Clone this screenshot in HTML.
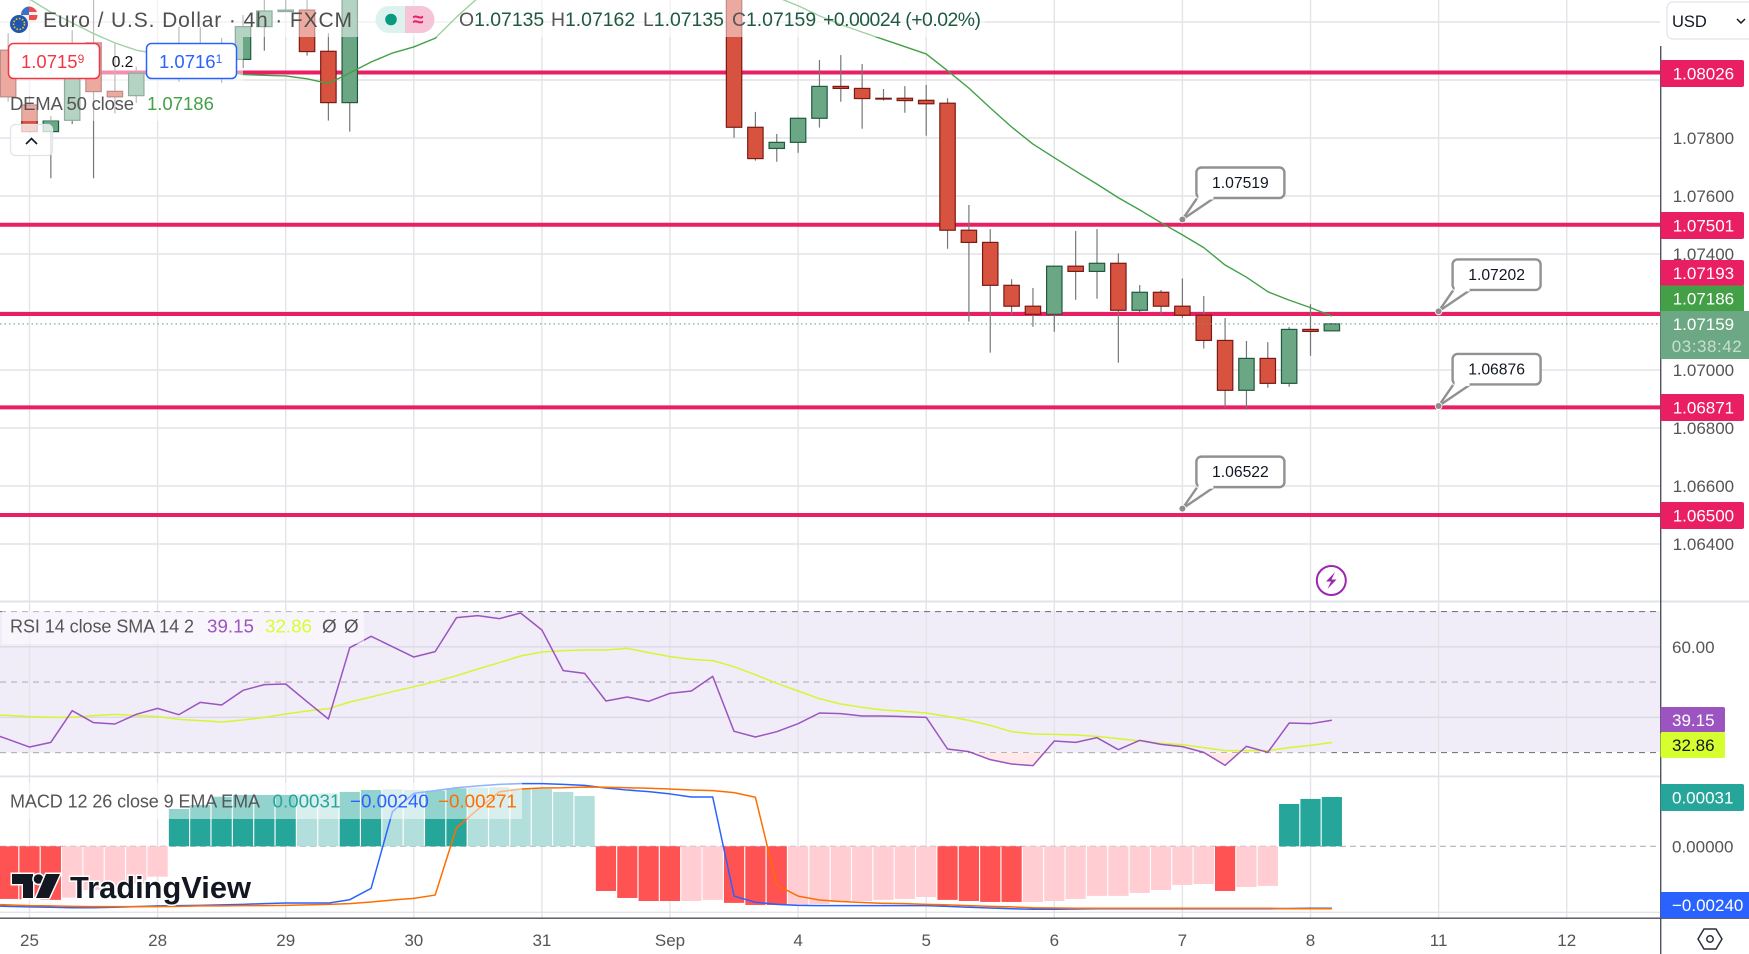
<!DOCTYPE html>
<html lang="en">
<head>
<meta charset="utf-8">
<title>EUR/USD 4h chart</title>
<style>
html,body{margin:0;padding:0;background:#fff;width:1749px;height:954px;overflow:hidden}
svg{display:block;font-family:"Liberation Sans",sans-serif}
text{white-space:pre}
</style>
</head>
<body>
<svg id="chart" xmlns="http://www.w3.org/2000/svg" width="1749" height="954" viewBox="0 0 1749 954">
<defs>
<clipPath id="clip-price"><rect x="0" y="0" width="1660" height="600"/></clipPath>
<clipPath id="clip-rsi"><rect x="0" y="602" width="1660" height="174"/></clipPath>
<clipPath id="clip-below30"><rect x="0" y="752" width="1660" height="24"/></clipPath>
<clipPath id="clip-macd"><rect x="0" y="777" width="1660" height="141"/></clipPath>
</defs>
<rect x="0" y="0" width="1749" height="954" fill="#ffffff"/>
<rect x="0" y="611" width="1660" height="141" fill="#f0edf8"/>
<g id="grid"></g>
<g id="price-pane" clip-path="url(#clip-price)"></g>
<g id="rsi-pane" clip-path="url(#clip-rsi)"></g>
<g id="macd-pane" clip-path="url(#clip-macd)"></g>

<!-- legend translucent backdrops -->
<rect x="0" y="0" width="985" height="37" fill="#fff" fill-opacity=".5"/>
<rect x="0" y="37" width="243" height="49" fill="#fff" fill-opacity=".5"/>
<rect x="0" y="86" width="221" height="35" fill="#fff" fill-opacity=".5"/>
<rect x="2" y="611" width="362" height="33" fill="#fff" fill-opacity=".5"/>
<rect x="0" y="783" width="522" height="36" fill="#fff" fill-opacity=".5"/>

<!-- symbol legend -->
<g>
<circle cx="29" cy="15" r="8.5" fill="#f0f0f0"/>
<path d="M29 6.5a8.5 8.5 0 0 1 8 5.5h-8zM29 15h8.5a8.5 8.5 0 0 1-1.6 5h-6.9z" fill="#f04b4b"/>
<path d="M29 6.5a8.5 8.5 0 0 0-8 8.5h8z" fill="#3d6fc4"/>
<circle cx="19" cy="24" r="9" fill="#1f56b0"/>
<circle cx="19" cy="24" r="5.5" fill="none" stroke="#f5c518" stroke-width="1.6" stroke-dasharray="1.6 1.6"/>
</g>
<text x="43" y="27" font-size="21" fill="#4f4f4f" textLength="309" lengthAdjust="spacing">Euro / U.S. Dollar · 4h · FXCM</text>
<g>
<path d="M389 6h16v27h-16a13.500 13.500 0 0 1 0-27z" fill="#ddf2ef"/>
<path d="M405 6h16a13.500 13.500 0 0 1 0 27h-16z" fill="#f6c4d7"/>
<circle cx="391" cy="19.500" r="5.800" fill="#089981"/>
<text x="418" y="26" font-size="20" font-weight="bold" fill="#e91e63" text-anchor="middle">≈</text>
</g>
<g font-size="19.400" fill="#1e5a41">
<text x="459" y="26"><tspan fill="#555">O</tspan>1.07135</text>
<text x="551" y="26"><tspan fill="#555">H</tspan>1.07162</text>
<text x="643" y="26"><tspan fill="#555">L</tspan>1.07135</text>
<text x="732" y="26"><tspan fill="#555">C</tspan>1.07159</text>
<text x="823" y="26" textLength="158" lengthAdjust="spacing">+0.00024 (+0.02%)</text>
</g>

<!-- sell / buy boxes -->
<g>
<rect x="8.500" y="43.500" width="91" height="35" rx="5" fill="#fff" stroke="#f23645" stroke-width="1.500"/>
<text x="21" y="68" font-size="18.500" fill="#f23645">1.0715<tspan font-size="12" dy="-5">9</tspan></text>
</g>
<text x="122.500" y="67" font-size="15.500" fill="#111" text-anchor="middle">0.2</text>
<g>
<rect x="146.500" y="43.500" width="90" height="35" rx="5" fill="#fff" stroke="#2962ff" stroke-width="1.500"/>
<text x="159" y="68" font-size="18.500" fill="#2962ff">1.0716<tspan font-size="12" dy="-5">1</tspan></text>
</g>
<text x="10" y="110" font-size="18.500" fill="#555" textLength="124" lengthAdjust="spacing">DEMA 50 close</text>
<text x="147" y="110" font-size="18.500" fill="#43a047">1.07186</text>
<g>
<rect x="10.500" y="124.500" width="42" height="31" rx="5" fill="#fff" fill-opacity=".75" stroke="#e0e3eb" stroke-width="1.200"/>
<path d="M26 144l5.500-5.500 5.500 5.500" fill="none" stroke="#131722" stroke-width="1.600"/>
</g>

<!-- indicator legends -->
<g font-size="18">
<text x="10" y="632.500" fill="#555" textLength="184" lengthAdjust="spacing">RSI 14 close SMA 14 2</text>
<text x="207" y="632.500" fill="#9c54c0" font-size="18.800">39.15</text>
<text x="265" y="632.500" fill="#d5ff2e" font-size="18.800">32.86</text>
<text x="322" y="632.500" fill="#555" font-size="18.800">Ø</text>
<text x="344" y="632.500" fill="#555" font-size="18.800">Ø</text>
</g>
<g font-size="18">
<text x="10" y="807.500" fill="#555" textLength="250" lengthAdjust="spacing">MACD 12 26 close 9 EMA EMA</text>
<text x="272.500" y="807.500" fill="#26a69a" font-size="18.800">0.00031</text>
<text x="350" y="807.500" fill="#2962ff" font-size="18.800">−0.00240</text>
<text x="438" y="807.500" fill="#ff6d00" font-size="18.800">−0.00271</text>
</g>

<!-- watermark logo -->
<g>
<g fill="#131722" stroke="#fff" stroke-width="3" paint-order="stroke">
<path d="M12 874h21v24h-10v-14H12z"/>
<circle cx="38.500" cy="879" r="4.800"/>
<path d="M46 874h14l-11 24H36z"/>
</g>
<text x="70" y="898" font-size="31" font-weight="bold" fill="#131722" stroke="#fff" stroke-width="3" paint-order="stroke" textLength="181" lengthAdjust="spacingAndGlyphs">TradingView</text>
</g>

<!-- bolt icon -->
<g>
<circle cx="1331.300" cy="580.500" r="14.500" fill="#fff" stroke="#9c27b0" stroke-width="2"/>
<path d="M1335 572l-9 9.500h5l-3.500 7.500 9-9.500h-5z" fill="#9c27b0"/>
</g>

<!-- axes -->
<rect x="0" y="600.500" width="1749" height="2" fill="#e0e3eb"/>
<rect x="0" y="775.500" width="1660" height="1.800" fill="#e0e3eb"/>
<rect x="0" y="917.500" width="1749" height="1.400" fill="#50535e"/>
<rect x="1660" y="46" width="1.400" height="908" fill="#50535e"/>
<g id="axis-labels" font-size="17" fill="#555"></g>

<!-- price axis tags -->
<g font-size="17" fill="#fff">
<g><rect x="1660.500" y="60" width="83.500" height="27" rx="2" fill="#ea1f63"/><text x="1672.700" y="79.500">1.08026</text></g>
<g><rect x="1660.500" y="212" width="83.500" height="27" rx="2" fill="#ea1f63"/><text x="1672.700" y="231.500">1.07501</text></g>
<g><rect x="1660.500" y="260" width="83.500" height="26" rx="2" fill="#ea1f63"/><text x="1672.700" y="279">1.07193</text></g>
<g><rect x="1660.500" y="285.500" width="83.500" height="26" fill="#43a047"/><text x="1672.700" y="304.500">1.07186</text></g>
<g><rect x="1660.500" y="311" width="88.500" height="48" fill="#6ca884"/><text x="1672.700" y="330">1.07159</text><text x="1671.700" y="352" fill="#fff" fill-opacity=".62" textLength="70" lengthAdjust="spacing">03:38:42</text></g>
<g><rect x="1660.500" y="394" width="83.500" height="27" rx="2" fill="#ea1f63"/><text x="1672.700" y="413.500">1.06871</text></g>
<g><rect x="1660.500" y="502" width="83.500" height="27" rx="2" fill="#ea1f63"/><text x="1672.700" y="521.500">1.06500</text></g>
<g><rect x="1660.500" y="707" width="64.500" height="25.500" rx="2" fill="#9c54c0"/><text x="1672" y="726">39.15</text></g>
<g><rect x="1660.500" y="732" width="64.500" height="26" rx="2" fill="#d5ff2e"/><text x="1672" y="751" fill="#131722">32.86</text></g>
<g><rect x="1660.500" y="784" width="83.500" height="27" rx="2" fill="#26a69a"/><text x="1672" y="803.500">0.00031</text></g>
<g><rect x="1660.500" y="892" width="88.500" height="26" fill="#2962ff"/><text x="1672" y="911">−0.00240</text></g>
</g>

<!-- currency button -->
<g>
<rect x="1667" y="2" width="90" height="37" rx="6" fill="#fff" stroke="#e0e3eb" stroke-width="1.200"/>
<text x="1672" y="27" font-size="16.500" fill="#131722">USD</text>
<path d="M1737 19l4 4 4-4" fill="none" stroke="#131722" stroke-width="1.500"/>
</g>
<!-- settings -->
<g fill="none" stroke="#2a2e39" stroke-width="1.500">
<path d="M1704 929h12l6 10-6 10h-12l-6-10z"/>
<circle cx="1710" cy="939" r="3.200"/>
</g>

<script>
/* ---------- chart data ---------- */
var firstBar = -2;
var dateTickLabels = ["25","28","29","30","31","Sep","4","5","6","7","8","11","12"];
var dateTickBars = [0,6,12,18,24,30,36,42,48,54,60,66,72];
var priceTicks = [1.082,1.08,1.078,1.076,1.074,1.072,1.07,1.068,1.066,1.064];
var priceTickLabels = ["","","1.07800","1.07600","1.07400","","1.07000","1.06800","1.06600","1.06400"];
var levels = [1.08026,1.07501,1.07193,1.06871,1.065];
var lastPrice = 1.07159;
var calloutPrices = [1.07519,1.07202,1.06876,1.06522];
var calloutBars = [54,66,66,54];
var calloutTexts = ["1.07519","1.07202","1.06876","1.06522"];

var opens = [null,
1.08103,1.07914,1.07822,1.07861,1.08128,1.07961,1.07946,1.08034,1.08121,1.08034,1.0811,1.08071,1.08184,1.08236,1.08241,1.08099,1.07922,
null,null,null,null,null,null,null,null,null,null,null,null,null,null,null,null,null,
1.08345,1.07837,1.07764,1.07785,1.07868,1.07978,1.07971,1.07937,1.07937,1.0793,1.0792,1.07482,1.0744,1.07292,1.0722,1.07192,1.07358,1.0734,
1.07368,1.07206,1.07268,1.0722,1.07189,1.07102,1.0693,1.0704,1.06954,1.0714,1.07135];
var highs = [null,
1.08161,1.07945,1.07876,1.08172,1.08293,1.08128,1.08046,1.08121,1.08183,1.08183,1.08145,1.08224,1.08286,1.0829,1.08286,1.08161,1.0834,
null,null,null,null,null,null,null,null,null,null,null,null,null,null,null,null,null,
1.0838,1.0789,1.07814,1.07871,1.08069,1.08086,1.08055,1.07969,1.07979,1.07983,1.07937,1.07569,1.07486,1.07313,1.07283,1.07358,1.07479,1.07486,
1.07402,1.07293,1.07276,1.07316,1.07255,1.07179,1.071,1.07096,1.07148,1.07227,1.07162];
var lows = [null,
1.07925,1.07817,1.07661,1.07848,1.07661,1.07885,1.07921,1.08014,1.07994,1.08007,1.0799,1.08041,1.08101,1.08236,1.08084,1.0786,1.07822,
null,null,null,null,null,null,null,null,null,null,null,null,null,null,null,null,null,
1.07801,1.07722,1.07718,1.07749,1.07836,1.07925,1.07832,1.07929,1.07887,1.07808,1.07418,1.07167,1.0706,1.0719,1.07149,1.07132,1.07242,1.07246,
1.07025,1.072,1.0719,1.0718,1.07074,1.06868,1.06863,1.06939,1.06942,1.07049,1.07135];
var closes = [null,
1.07942,1.07822,1.0786,1.08069,1.0796,1.07942,1.08023,1.08103,1.08017,1.08103,1.08028,1.08184,1.08238,1.08241,1.08098,1.07922,1.0831,
null,null,null,null,null,null,null,null,null,null,null,null,null,null,null,null,null,
1.07837,1.07729,1.07785,1.07868,1.07978,1.07971,1.07936,1.07935,1.07929,1.07918,1.07482,1.0744,1.07292,1.0722,1.07192,1.07358,1.0734,1.07368,
1.07206,1.07268,1.0722,1.07189,1.07102,1.0693,1.0704,1.06954,1.0714,1.07133,1.07159];
var dema = [null,null,
1.08279,1.08234,1.08197,1.0816,1.08128,1.08103,1.0809,1.08069,1.08048,1.08031,1.08019,1.08016,1.08014,1.08004,1.07988,1.08024,
1.08062,1.08093,1.08114,1.08144,1.08217,1.08283,
null,null,null,null,null,null,null,null,null,null,null,null,null,
1.08286,1.08256,1.08221,1.08191,1.08165,1.0814,1.08115,1.0809,1.08032,1.07972,1.07904,1.07838,1.07779,1.07732,1.07686,1.07641,1.07594,
1.07552,1.07508,1.07466,1.07422,1.07362,1.0732,1.0727,1.07241,1.07215,1.07186];
var rsi = [35.93,33.75,
31.57,32.9,41.88,38.48,38.1,40.84,42.54,40.75,44.25,43.49,47.65,49.26,49.45,44.43,39.52,59.75,
62.97,60.04,57.1,58.62,68.26,68.83,67.98,69.59,64.77,53.23,52.47,44.62,45.76,44.53,46.8,47.46,51.62,
36.02,34.41,35.92,38.19,41.22,41.03,40.37,40.37,40.18,39.99,31.01,30.25,27.98,26.75,26.28,33.28,32.9,34.22,
30.82,33.47,32.33,31.67,30.06,26.37,31.76,30.06,38.38,38.19,39.15];
var rsiSma = [40.75,40.56,
40.18,39.99,39.99,40.46,40.84,40.46,40.18,39.42,39.04,38.67,39.23,39.99,40.94,41.79,42.45,44.34,
45.76,47.27,48.69,50.11,51.81,53.7,55.5,57.39,58.52,58.9,59.09,59.09,59.56,58.34,57.2,56.44,56.07,
54.36,52.09,49.64,47.46,45.29,43.77,42.83,42.07,41.69,41.22,40.27,39.14,37.72,35.92,35.26,35.17,34.98,34.6,
33.94,33.28,32.61,32.24,31.39,30.53,30.53,30.53,31.39,32.05,32.86];
var macdHist = [-0.00033,-0.000331,
-0.000333,-0.000337,-0.000323,-0.000275,-0.000254,-0.000233,-0.000191,0.000235,0.00026,0.000312,0.000323,0.000323,0.000323,0.000327,0.000333,0.000342,
0.000354,0.000358,0.000354,0.00035,0.000365,0.000369,0.000371,0.000363,0.000361,0.000342,0.000316,-0.000281,-0.000325,-0.000344,-0.000344,-0.000344,-0.000337,
-0.000356,-0.000369,-0.000369,-0.000369,-0.000363,-0.000352,-0.000344,-0.000337,-0.000331,-0.000319,-0.000337,-0.000344,-0.00035,-0.00035,-0.00035,-0.000344,-0.000331,-0.000312,
-0.000312,-0.000293,-0.000275,-0.000243,-0.000237,-0.000281,-0.000256,-0.000249,0.000266,0.000298,0.00031];
var macdHistStrong = [1,1,
1,1,0,0,0,0,0,1,1,1,1,1,1,0,0,1,
1,0,0,1,1,0,0,0,0,0,0,1,1,1,1,0,0,
1,1,1,0,0,0,0,0,0,0,1,1,1,1,0,0,0,0,
0,0,0,0,0,1,0,0,1,1,1];
var macdLine = [-0.0023,-0.00233,
-0.00235,-0.00236,-0.00238,-0.00238,-0.00236,-0.00234,-0.00231,-0.0023,-0.00229,-0.00227,-0.00225,-0.00222,-0.0022,-0.0022,-0.0022,-0.00207,
-0.00163,0.00134,0.00205,0.00216,0.00227,0.00234,0.0024,0.00243,0.00243,0.0024,0.00236,0.00226,0.00218,0.00212,0.00203,0.00191,0.00191,
-0.00193,-0.00217,-0.00225,-0.00229,-0.0023,-0.0023,-0.0023,-0.0023,-0.0023,-0.0023,-0.00233,-0.00236,-0.00239,-0.00242,-0.00244,-0.00244,-0.00243,-0.00242,
-0.00242,-0.00242,-0.00242,-0.00242,-0.00242,-0.00242,-0.00242,-0.00242,-0.00241,-0.0024,-0.0024];
var macdSignal = [-0.00225,-0.00227,
-0.0023,-0.00231,-0.00233,-0.00234,-0.00234,-0.00234,-0.00234,-0.00233,-0.00231,-0.00231,-0.0023,-0.0023,-0.00229,-0.00227,-0.00225,-0.00222,
-0.00216,-0.00208,-0.00202,-0.00189,0.00072,0.00143,0.00211,0.00222,0.00226,0.00227,0.0023,0.00229,0.00227,0.00225,0.00222,0.00218,0.00216,
0.00208,0.0019,-0.0015,-0.00193,-0.00208,-0.00214,-0.00218,-0.00221,-0.00222,-0.00225,-0.00227,-0.0023,-0.00233,-0.00235,-0.00238,-0.00239,-0.0024,-0.0024,
-0.0024,-0.0024,-0.0024,-0.0024,-0.0024,-0.0024,-0.0024,-0.0024,-0.00242,-0.00242,-0.00242];

/* ---------- axis functions ---------- */
function xBar(i){ return 29.5 + 21.35*i; }
function yPrice(p){ return 138 + (1.078-p)*29000; }
function yRsi(v){ return 717.3 + (40-v)*3.525; }
function yHist(v){ return 846.3 - v*159000; }
function yMacd(v){ return 846.3 - v*25800; }

var NS = "http://www.w3.org/2000/svg";
function mk(parent, tag, props){
  var el = document.createElementNS(NS, tag);
  for (var k in props) el.setAttribute(k, props[k]);
  parent.appendChild(el);
  return el;
}
function linePath(values, yFn){
  var d = "", pen = false;
  for (var n = 0; n < values.length; n++){
    if (values[n] === null){ pen = false; continue; }
    d += (pen ? "L" : "M") + xBar(firstBar+n).toFixed(2) + " " + yFn(values[n]).toFixed(2);
    pen = true;
  }
  return d;
}

var grid = document.getElementById("grid");
var pricePane = document.getElementById("price-pane");
var rsiPane = document.getElementById("rsi-pane");
var macdPane = document.getElementById("macd-pane");
var axisLabels = document.getElementById("axis-labels");
var el, i;

/* grid + ticks */
dateTickBars.forEach(function(b, k){
  var el = mk(grid, "line", {x1:xBar(b), x2:xBar(b), y1:0, y2:918, stroke:"#e4e4e8", "stroke-width":1.4});
  
  
  var t = mk(axisLabels, "text", {x:xBar(b), y:946, "text-anchor":"middle"});
  t.textContent = dateTickLabels[k];
  
  
});
priceTicks.forEach(function(p, k){
  var el = mk(grid, "line", {x1:0, x2:1660, y1:yPrice(p), y2:yPrice(p), stroke:"#e4e4e8", "stroke-width":1.4});
  
  
  if (priceTickLabels[k]){
    var t = mk(axisLabels, "text", {x:1672.7, y:yPrice(p)+6});
    t.textContent = priceTickLabels[k];
    
    
  }
});
var rsiGridValues = [60,40];
rsiGridValues.forEach(function(v){
  var el = mk(grid, "line", {x1:0, x2:1660, y1:yRsi(v), y2:yRsi(v), stroke:"#dcd9e6", "stroke-width":1.4});
  
  
});
var rsiTickValues = [60];
rsiTickValues.forEach(function(v){
  var t = mk(axisLabels, "text", {x:1672, y:yRsi(v)+6});
  t.textContent = v.toFixed(2);
  
  
});
el = mk(grid, "line", {x1:0, x2:1660, y1:912.3, y2:912.3, stroke:"#e4e4e8", "stroke-width":1.4});


var macdTickValues = [0];
macdTickValues.forEach(function(v){
  var t = mk(axisLabels, "text", {x:1672, y:yHist(v)+6});
  t.textContent = v.toFixed(5);
  
  
});
var rsiBounds = [70,50,30];
rsiBounds.forEach(function(v){
  var el = mk(grid, "line", {x1:0, x2:1660, y1:yRsi(v), y2:yRsi(v), stroke: v===50 ? "#b2b0c0" : "#787b86", "stroke-width":1.2, "stroke-dasharray":"6 5"});
  
  
});

/* horizontal levels */
levels.forEach(function(p){
  var el = mk(pricePane, "line", {x1:0, x2:1660, y1:yPrice(p), y2:yPrice(p), stroke:"#ea1f63", "stroke-width":4});
  
  
});

/* candles */
for (i = 0; i < opens.length; i++){
  if (opens[i] === null) continue;
  var isUp = closes[i] >= opens[i];
  var cx = xBar(firstBar+i);
  var wick = mk(pricePane, "line", {x1:cx, x2:cx, y1:yPrice(highs[i]), y2:yPrice(lows[i]), stroke:"#777", "stroke-width":1.2});
  
  
  var bodyTop = yPrice(Math.max(opens[i], closes[i]));
  var bodyBottom = yPrice(Math.min(opens[i], closes[i]));
  var candleBody = mk(pricePane, "rect", {x:cx-7.7, y:bodyTop, width:15.4, height:Math.max(bodyBottom-bodyTop,0.8), fill: isUp ? "#6ba784" : "#d8533f", stroke: isUp ? "#1f5a3e" : "#7a1a14", "stroke-width":1.2});
  
  
}

/* DEMA */
el = mk(pricePane, "path", {d:linePath(dema, yPrice), fill:"none", stroke:"#43a047", "stroke-width":1.4, "stroke-linejoin":"round"});



/* last price dotted */
el = mk(pricePane, "line", {x1:0, x2:1660, y1:yPrice(lastPrice), y2:yPrice(lastPrice), stroke:"#5f9f80", "stroke-width":1, "stroke-dasharray":"1.500 3"});



/* callouts */
calloutPrices.forEach(function(p, k){
  var ax = xBar(calloutBars[k]), ay = yPrice(p);
  var g = mk(pricePane, "g", {});
  
  
  mk(g, "path", {d:"M"+(ax+14.5)+" "+(ay-21)+"L"+ax+" "+ay+"L"+(ax+31)+" "+(ay-21), fill:"#fff", stroke:"#919191", "stroke-width":2.4, "stroke-linejoin":"round"});
  mk(g, "rect", {x:ax+14, y:ay-52, width:88, height:30.5, rx:5, fill:"#fff", stroke:"#919191", "stroke-width":2.4});
  mk(g, "rect", {x:ax+16, y:ay-24, width:15, height:4, fill:"#fff"});
  mk(g, "circle", {cx:ax, cy:ay, r:3.4, fill:"#8d8d8d", stroke:"#fff", "stroke-width":0.8});
  var t = mk(g, "text", {x:ax+58, y:ay-31.5, "font-size":15.7, fill:"#131722", "text-anchor":"middle"});
  t.textContent = calloutTexts[k];
});

/* RSI */
var rsiArea = linePath(rsi, yRsi);
el = mk(document.getElementById("chart"), "path", {d:rsiArea+"L"+xBar(firstBar+rsi.length-1)+" "+yRsi(30)+"L"+xBar(firstBar)+" "+yRsi(30)+"Z", fill:"#ffe9e9", "clip-path":"url(#clip-below30)"});


document.getElementById("chart").insertBefore(el, rsiPane);
el = mk(rsiPane, "path", {d:linePath(rsiSma, yRsi), fill:"none", stroke:"#d8f532", "stroke-width":1.5, "stroke-linejoin":"round"});


el = mk(rsiPane, "path", {d:rsiArea, fill:"none", stroke:"#9c54c0", "stroke-width":1.5, "stroke-linejoin":"round"});



/* MACD */
el = mk(macdPane, "line", {x1:0, x2:1660, y1:yHist(0), y2:yHist(0), stroke:"#b2b5be", "stroke-width":1.2, "stroke-dasharray":"6 4"});


for (i = 0; i < macdHist.length; i++){
  var v = macdHist[i];
  var strong = macdHistStrong[i] === 1;
  var fill = v >= 0 ? (strong ? "#26a69a" : "#b2dfdb") : (strong ? "#ff5252" : "#ffcdd2");
  var y0 = yHist(0), y1 = yHist(v);
  var bar = mk(macdPane, "rect", {x:xBar(firstBar+i)-10.1, y:Math.min(y0,y1), width:20.2, height:Math.abs(y1-y0), fill:fill});
  
  
}
el = mk(macdPane, "path", {d:linePath(macdLine, yMacd), fill:"none", stroke:"#2962ff", "stroke-width":1.5, "stroke-linejoin":"round"});


el = mk(macdPane, "path", {d:linePath(macdSignal, yMacd), fill:"none", stroke:"#ff6d00", "stroke-width":1.5, "stroke-linejoin":"round"});


</script>
</svg>
</body>
</html>
